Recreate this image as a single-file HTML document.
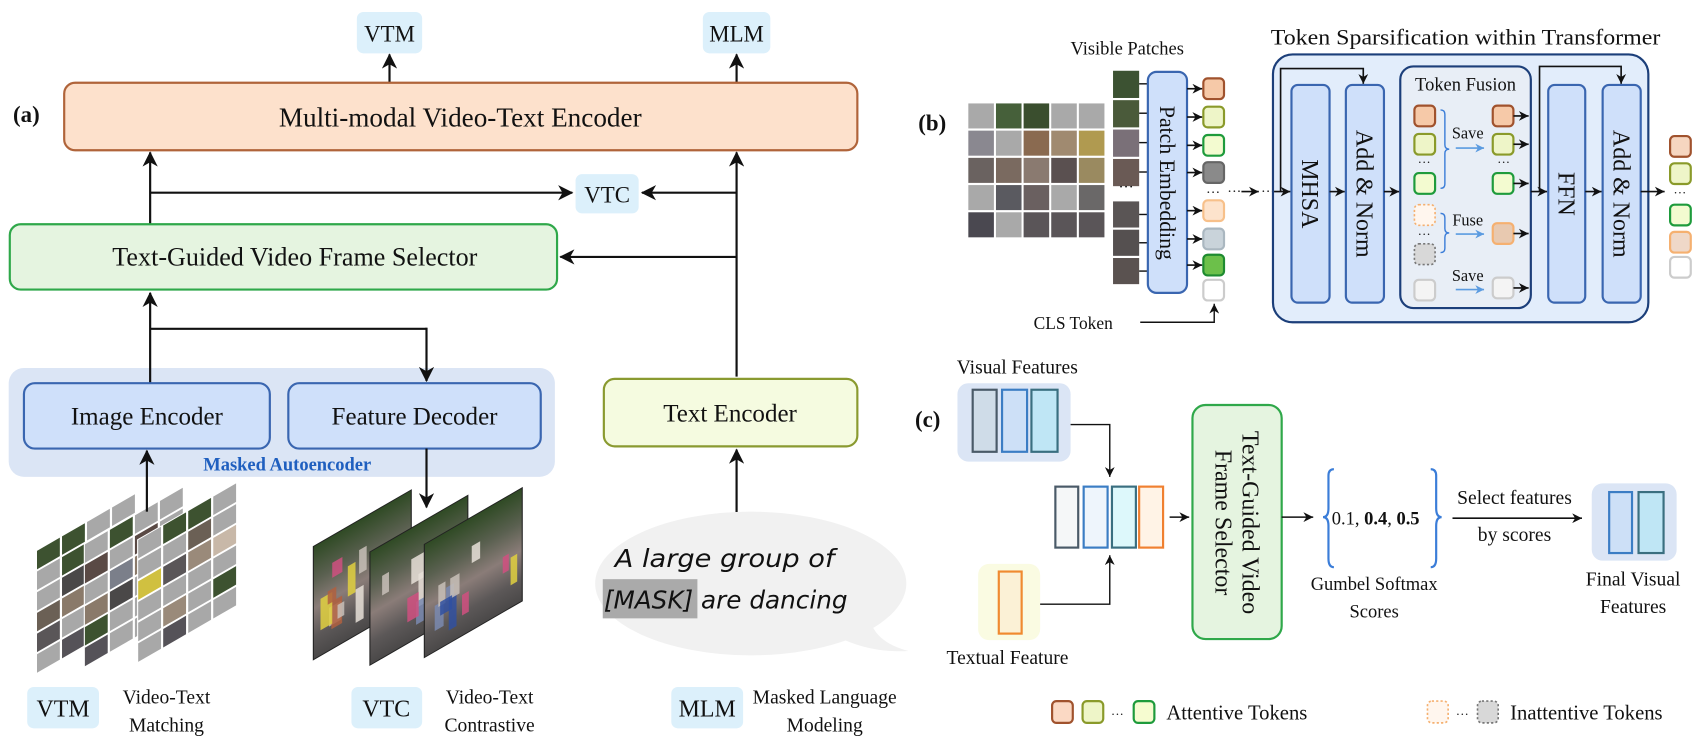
<!DOCTYPE html>
<html><head><meta charset="utf-8">
<style>
html,body{margin:0;padding:0;background:#fff;}
svg{display:block;font-family:"Liberation Serif",serif;}
svg text{font-family:"Liberation Serif",serif;fill:#111;}
</style></head>
<body>
<svg id="s" width="1706" height="749" viewBox="0 0 1568 688" preserveAspectRatio="none" xmlns="http://www.w3.org/2000/svg" font-family="Liberation Serif, serif">
<defs>
<marker id="A" viewBox="0 0 14 14" refX="13" refY="7" markerWidth="14" markerHeight="14" markerUnits="userSpaceOnUse" orient="auto"><path d="M0,0 L14,7 L0,14 L4,7z" fill="#111"/></marker>
<marker id="a" viewBox="0 0 10 10" refX="10" refY="5" markerWidth="9" markerHeight="9" markerUnits="userSpaceOnUse" orient="auto"><path d="M0,0 L10,5 L0,10 L3,5z" fill="#111"/></marker>
<marker id="b" viewBox="0 0 10 10" refX="10" refY="5" markerWidth="8" markerHeight="8" markerUnits="userSpaceOnUse" orient="auto"><path d="M0,0 L10,5 L0,10 L3,5z" fill="#5b9be0"/></marker>
<linearGradient id="ph" x1="0" y1="0" x2="0" y2="1">
<stop offset="0" stop-color="#2f4a24"/><stop offset="0.3" stop-color="#5a6050"/><stop offset="0.55" stop-color="#8a7c78"/><stop offset="0.8" stop-color="#5c5858"/><stop offset="1" stop-color="#4a4848"/>
</linearGradient>
</defs>

<!-- ============ (a) ============ -->
<text x="12" y="112" font-size="21" font-weight="bold">(a)</text>
<rect x="328" y="11" width="60" height="38" rx="6" fill="#dcf0fb"/>
<text x="358" y="38" font-size="21" text-anchor="middle">VTM</text>
<rect x="646" y="11" width="62" height="38" rx="6" fill="#dcf0fb"/>
<text x="677" y="38" font-size="21" text-anchor="middle">MLM</text>
<line x1="358" y1="76" x2="358" y2="50" stroke="#111" stroke-width="2" marker-end="url(#A)"/>
<line x1="677" y1="76" x2="677" y2="50" stroke="#111" stroke-width="2" marker-end="url(#A)"/>

<rect x="59" y="76" width="729" height="62" rx="10" fill="#fde1cc" stroke="#b0643a" stroke-width="2"/>
<text x="423" y="116" font-size="25" text-anchor="middle">Multi-modal Video-Text Encoder</text>

<line x1="138" y1="206" x2="138" y2="140" stroke="#111" stroke-width="2" marker-end="url(#A)"/>
<line x1="138" y1="177" x2="526" y2="177" stroke="#111" stroke-width="2" marker-end="url(#A)"/>
<rect x="529" y="160" width="58" height="36" rx="6" fill="#dcf0fb"/>
<text x="558" y="186" font-size="21" text-anchor="middle">VTC</text>
<line x1="677" y1="346" x2="677" y2="140" stroke="#111" stroke-width="2" marker-end="url(#A)"/>
<line x1="677" y1="177" x2="590" y2="177" stroke="#111" stroke-width="2" marker-end="url(#A)"/>
<line x1="677" y1="236" x2="515" y2="236" stroke="#111" stroke-width="2" marker-end="url(#A)"/>

<rect x="9" y="206" width="503" height="60" rx="10" fill="#e5f4e0" stroke="#2fa84a" stroke-width="2"/>
<text x="271" y="244" font-size="24" text-anchor="middle">Text-Guided Video Frame Selector</text>

<rect x="8" y="338" width="502" height="100" rx="14" fill="#dbe5f5"/>
<line x1="138" y1="352" x2="138" y2="269" stroke="#111" stroke-width="2" marker-end="url(#A)"/>
<line x1="138" y1="302" x2="392" y2="302" stroke="#111" stroke-width="2"/>
<line x1="392" y1="301" x2="392" y2="350" stroke="#111" stroke-width="2" marker-end="url(#A)"/>

<rect x="22" y="352" width="226" height="60" rx="10" fill="#cfe0fa" stroke="#3a66b0" stroke-width="2"/>
<text x="135" y="390" font-size="23" text-anchor="middle">Image Encoder</text>
<rect x="265" y="352" width="232" height="60" rx="10" fill="#cfe0fa" stroke="#3a66b0" stroke-width="2"/>
<text x="381" y="390" font-size="23" text-anchor="middle">Feature Decoder</text>
<text x="264" y="432" font-size="17" font-weight="bold" text-anchor="middle" style="fill:#1f5fbf">Masked Autoencoder</text>

<rect x="555" y="348" width="233" height="62" rx="10" fill="#f5fbe0" stroke="#8a9a30" stroke-width="2"/>
<text x="671" y="387" font-size="23" text-anchor="middle">Text Encoder</text>
<line x1="677" y1="472" x2="677" y2="413" stroke="#111" stroke-width="2" marker-end="url(#A)"/>

<!-- grid frames (filled by script) -->
<g id="gf"></g>
<!-- photo frames -->
<g id="pf"></g>

<line x1="135" y1="470" x2="135" y2="414" stroke="#111" stroke-width="2" marker-end="url(#A)"/>
<line x1="392" y1="412" x2="392" y2="466" stroke="#111" stroke-width="2" marker-end="url(#A)"/>

<!-- speech bubble -->
<ellipse cx="690" cy="536" rx="143" ry="66" fill="#f1f1f1"/>
<path d="M770,585 Q800,600 835,598 Q805,590 800,570z" fill="#f1f1f1"/>
<rect x="554" y="532" width="87" height="36" fill="#aaaaaa"/>
<text x="565" y="521" font-size="23" font-style="italic" textLength="202" lengthAdjust="spacingAndGlyphs" style="font-family:'DejaVu Sans',sans-serif">A large group of</text>
<text x="555" y="559" font-size="23" font-style="italic" textLength="224" lengthAdjust="spacingAndGlyphs" style="font-family:'DejaVu Sans',sans-serif">[MASK] are dancing</text>

<!-- legend (a) -->
<rect x="25" y="631" width="66" height="38" rx="6" fill="#dcf0fb"/>
<text x="58" y="658" font-size="22" text-anchor="middle">VTM</text>
<text x="153" y="646" font-size="18" text-anchor="middle">Video-Text</text>
<text x="153" y="672" font-size="18" text-anchor="middle">Matching</text>
<rect x="323" y="631" width="65" height="38" rx="6" fill="#dcf0fb"/>
<text x="355" y="658" font-size="22" text-anchor="middle">VTC</text>
<text x="450" y="646" font-size="18" text-anchor="middle">Video-Text</text>
<text x="450" y="672" font-size="18" text-anchor="middle">Contrastive</text>
<rect x="617" y="631" width="66" height="38" rx="6" fill="#dcf0fb"/>
<text x="650" y="658" font-size="22" text-anchor="middle">MLM</text>
<text x="758" y="646" font-size="18" text-anchor="middle">Masked Language</text>
<text x="758" y="672" font-size="18" text-anchor="middle">Modeling</text>

<!-- ============ (b) ============ -->
<text x="844" y="120" font-size="21" font-weight="bold">(b)</text>
<text x="1036" y="50" font-size="17" text-anchor="middle">Visible Patches</text>
<text x="1347" y="41" font-size="20" text-anchor="middle" textLength="358" lengthAdjust="spacingAndGlyphs">Token Sparsification within Transformer</text>
<g id="bg"></g>
<g id="pc"></g>
<text x="1035" y="176" font-size="14" text-anchor="middle">···</text>

<rect x="1055" y="66" width="36" height="203" rx="8" fill="#cfe0fa" stroke="#3a66b0" stroke-width="2"/>
<text transform="translate(1073,168) rotate(90)" font-size="20" text-anchor="middle" dy="0.35em">Patch Embedding</text>

<g id="tk"></g>
<text x="1115" y="181" font-size="13" text-anchor="middle">···</text>
<text x="950" y="302" font-size="16">CLS Token</text>
<polyline points="1048,296 1116,296 1116,279" fill="none" stroke="#111" stroke-width="1.3" marker-end="url(#a)"/>

<text x="1128" y="180" font-size="13">···</text>
<line x1="1141" y1="176" x2="1157" y2="176" stroke="#111" stroke-width="1.5" marker-end="url(#a)"/>
<text x="1159" y="180" font-size="13">···</text>

<rect x="1170" y="50" width="345" height="246" rx="18" fill="#e2edfb" stroke="#1c3f7a" stroke-width="2"/>
<line x1="1171" y1="176" x2="1186" y2="176" stroke="#111" stroke-width="1.5" marker-end="url(#a)"/>
<polyline points="1177,176 1177,63 1253,63 1253,77" fill="none" stroke="#111" stroke-width="1.5" marker-end="url(#a)"/>
<rect x="1187" y="78" width="35" height="200" rx="6" fill="#cfe0fa" stroke="#3a66b0" stroke-width="2"/>
<text transform="translate(1204.5,178) rotate(90)" font-size="22" text-anchor="middle" dy="0.35em">MHSA</text>
<line x1="1222" y1="176" x2="1236" y2="176" stroke="#111" stroke-width="1.5" marker-end="url(#a)"/>
<rect x="1237" y="78" width="35" height="200" rx="6" fill="#cfe0fa" stroke="#3a66b0" stroke-width="2"/>
<text transform="translate(1254.5,178) rotate(90)" font-size="22" text-anchor="middle" dy="0.35em">Add &amp; Norm</text>
<line x1="1272" y1="176" x2="1286" y2="176" stroke="#111" stroke-width="1.5" marker-end="url(#a)"/>

<rect x="1287" y="61" width="120" height="222" rx="12" fill="#e8eef6" stroke="#1c3f7a" stroke-width="2"/>
<text x="1347" y="83" font-size="17" text-anchor="middle">Token Fusion</text>
<g id="fu"></g>
<text x="1309" y="153" font-size="12" text-anchor="middle">···</text>
<text x="1382" y="153" font-size="12" text-anchor="middle">···</text>
<text x="1309" y="219" font-size="12" text-anchor="middle">···</text>
<path d="M1324,101 q4,0 4,4 v28 q0,4 4,4 q-4,0 -4,4 v28 q0,4 -4,4" fill="none" stroke="#3b7dd8" stroke-width="1.3"/>
<text x="1349" y="127" font-size="15" text-anchor="middle">Save</text>
<line x1="1338" y1="136" x2="1364" y2="136" stroke="#5b9be0" stroke-width="1.5" marker-end="url(#b)"/>
<path d="M1324,196 q4,0 4,4 v10 q0,4 4,4 q-4,0 -4,4 v10 q0,4 -4,4" fill="none" stroke="#3b7dd8" stroke-width="1.3"/>
<text x="1349" y="207" font-size="15" text-anchor="middle">Fuse</text>
<line x1="1338" y1="215" x2="1364" y2="215" stroke="#5b9be0" stroke-width="1.5" marker-end="url(#b)"/>
<text x="1349" y="258" font-size="15" text-anchor="middle">Save</text>
<line x1="1338" y1="266" x2="1364" y2="266" stroke="#5b9be0" stroke-width="1.5" marker-end="url(#b)"/>

<polyline points="1415,176 1415,61 1490,61 1490,77" fill="none" stroke="#111" stroke-width="1.5" marker-end="url(#a)"/>
<line x1="1407" y1="176" x2="1422" y2="176" stroke="#111" stroke-width="1.5" marker-end="url(#a)"/>
<rect x="1423" y="78" width="34" height="200" rx="6" fill="#cfe0fa" stroke="#3a66b0" stroke-width="2"/>
<text transform="translate(1440,178) rotate(90)" font-size="22" text-anchor="middle" dy="0.35em">FFN</text>
<line x1="1457" y1="176" x2="1472" y2="176" stroke="#111" stroke-width="1.5" marker-end="url(#a)"/>
<rect x="1473" y="78" width="35" height="200" rx="6" fill="#cfe0fa" stroke="#3a66b0" stroke-width="2"/>
<text transform="translate(1490.5,178) rotate(90)" font-size="22" text-anchor="middle" dy="0.35em">Add &amp; Norm</text>
<line x1="1508" y1="176" x2="1530" y2="176" stroke="#111" stroke-width="1.5" marker-end="url(#a)"/>
<g id="ot"></g>
<text x="1544" y="181" font-size="12" text-anchor="middle">···</text>

<!-- ============ (c) ============ -->
<text x="841" y="392" font-size="21" font-weight="bold">(c)</text>
<text x="935" y="343" font-size="18" text-anchor="middle">Visual Features</text>
<rect x="880" y="352" width="104" height="72" rx="10" fill="#dbe5f5"/>
<rect x="894" y="358" width="22" height="57" fill="#cfdce8" stroke="#4a5a68" stroke-width="2"/>
<rect x="921" y="358" width="23" height="57" fill="#cde0f7" stroke="#3b7dc4" stroke-width="2"/>
<rect x="948" y="358" width="24" height="57" fill="#bfe6f5" stroke="#3a6f80" stroke-width="2"/>
<polyline points="984,390 1020,390 1020,438" fill="none" stroke="#111" stroke-width="1.3" marker-end="url(#a)"/>

<rect x="970" y="447" width="21" height="56" fill="#f5f7f8" stroke="#4a5a68" stroke-width="2"/>
<rect x="996" y="447" width="22" height="56" fill="#eef5fc" stroke="#3b7dc4" stroke-width="2"/>
<rect x="1022" y="447" width="22" height="56" fill="#ddf8fb" stroke="#3a6f80" stroke-width="2"/>
<rect x="1047" y="447" width="22" height="56" fill="#fff3e6" stroke="#f08030" stroke-width="2"/>
<line x1="1075" y1="475" x2="1093" y2="475" stroke="#111" stroke-width="1.3" marker-end="url(#a)"/>

<rect x="899" y="518" width="57" height="70" rx="10" fill="#fafbe2"/>
<rect x="918" y="525" width="21" height="57" fill="#fbf1d6" stroke="#f08a30" stroke-width="2"/>
<polyline points="956,555 1020,555 1020,510" fill="none" stroke="#111" stroke-width="1.3" marker-end="url(#a)"/>
<text x="926" y="610" font-size="18" text-anchor="middle">Textual Feature</text>

<rect x="1096" y="372" width="82" height="215" rx="12" fill="#e5f4e0" stroke="#2fa84a" stroke-width="2"/>
<text transform="translate(1137,480) rotate(90)" font-size="22" text-anchor="middle" y="-5">Text-Guided Video</text>
<text transform="translate(1137,480) rotate(90)" font-size="22" text-anchor="middle" y="20">Frame Selector</text>
<line x1="1178" y1="475" x2="1207" y2="475" stroke="#111" stroke-width="1.3" marker-end="url(#a)"/>

<path d="M1226,431 q-5,0 -5,6 v30 q0,8 -5,8 q5,0 5,8 v30 q0,8 5,8" fill="none" stroke="#3b7dd8" stroke-width="2"/>
<text x="1224" y="482" font-size="17">0.1, <tspan font-weight="bold">0.4</tspan>, <tspan font-weight="bold">0.5</tspan></text>
<path d="M1315,431 q5,0 5,6 v30 q0,8 5,8 q-5,0 -5,8 v30 q0,8 -5,8" fill="none" stroke="#3b7dd8" stroke-width="2"/>
<text x="1392" y="463" font-size="18" text-anchor="middle">Select features</text>
<line x1="1335" y1="476" x2="1454" y2="476" stroke="#111" stroke-width="1.5" marker-end="url(#a)"/>
<text x="1392" y="497" font-size="18" text-anchor="middle">by scores</text>
<text x="1263" y="542" font-size="17" text-anchor="middle">Gumbel Softmax</text>
<text x="1263" y="567" font-size="17" text-anchor="middle">Scores</text>
<rect x="1463" y="444" width="78" height="71" rx="10" fill="#dbe5f5"/>
<rect x="1479" y="452" width="21" height="56" fill="#cde0f7" stroke="#3b7dc4" stroke-width="2"/>
<rect x="1506" y="452" width="23" height="56" fill="#bfe6f5" stroke="#3a6f80" stroke-width="2"/>
<text x="1501" y="538" font-size="18" text-anchor="middle">Final Visual</text>
<text x="1501" y="563" font-size="18" text-anchor="middle">Features</text>

<!-- legend (c) -->
<rect x="967" y="644" width="19" height="20" rx="4" fill="#fbd9c4" stroke="#a0522d" stroke-width="2"/>
<rect x="995" y="644" width="19" height="20" rx="4" fill="#eef5c8" stroke="#8a9a2a" stroke-width="2"/>
<text x="1027" y="660" font-size="12" text-anchor="middle">···</text>
<rect x="1042" y="644" width="19" height="20" rx="4" fill="#f6fcd0" stroke="#1e9b3c" stroke-width="2"/>
<text x="1072" y="661" font-size="19">Attentive Tokens</text>
<rect x="1312" y="644" width="19" height="20" rx="4" fill="#fff6ee" stroke="#f5b070" stroke-width="1.5" stroke-dasharray="2,2"/>
<text x="1344" y="660" font-size="12" text-anchor="middle">···</text>
<rect x="1358" y="644" width="19" height="20" rx="4" fill="#d8d8d8" stroke="#777" stroke-width="1.5" stroke-dasharray="2,2"/>
<text x="1388" y="661" font-size="19">Inattentive Tokens</text>

<script>
(function(){
var NS="http://www.w3.org/2000/svg";
function el(p,t,a){var e=document.createElementNS(NS,t);for(var k in a)e.setAttribute(k,a[k]);p.appendChild(e);return e;}
function tok(p,x,y,f,s,d){var a={x:x,y:y,width:19,height:19,rx:4,fill:f,stroke:s,"stroke-width":2};if(d){a["stroke-dasharray"]="2,2";a["stroke-width"]=1.5;}el(p,"rect",a);}
var pal=["#3d5230","#6b6055","#7b7f8a","#5a4a45","#8a7a6a","#c8b8a8","#4a4848","#9a8a7a","#d0c040","#5a5658"];
var bg=document.getElementById("bg");
var pat=["GPPGG","PGPPP","PPPPP","GPPGP","PGPPP"];
var rowc=[["#3d5230","#46603a","#3a4e2e","#3d5230","#3d5230"],["#8a8890","#7a6a60","#8a6a50","#a08a70","#b09a50"],["#6a6260","#7a6a60","#8a7a70","#5a5050","#9a8a60"],["#6a6a70","#5a5a60","#6a6060","#5a5a60","#6a6868"],["#4a4850","#5a5558","#5a5558","#5a5558","#5a5558"]];
for(var r=0;r<5;r++)for(var c=0;c<5;c++){el(bg,"rect",{x:890+c*25.4,y:95+r*25,width:23.5,height:23,fill:pat[r][c]=="G"?"#a9a9a9":rowc[r][c]});}
var pc=document.getElementById("pc");
var py=[65,92,119,146,185,211,237],pcol=["#3c5232","#4a5a3a","#7a7078","#6a5a55","#5a5555","#555050","#5a5250"];
var tky=[72,98,124,149,184,210,234];
var tf=[["#f6c9a8","#a0522d"],["#eef5c8","#8a9a2a"],["#f3fbd0","#1e9b3c"],["#8a8a8a","#666"],["#fde3cc","#f7c08a"],["#c9d3da","#aab7c0"],["#6cc04a","#1e8b30"]];
var tk=document.getElementById("tk");
for(var i=0;i<7;i++){el(pc,"rect",{x:1023,y:py[i],width:24,height:i<4?25:24,fill:pcol[i]});
var cy=py[i]+12;el(pc,"line",{x1:1047,y1:cy,x2:1055,y2:cy,stroke:"#111","stroke-width":1.3});
el(tk,"line",{x1:1091,y1:tky[i]+9.5,x2:1105,y2:tky[i]+9.5,stroke:"#111","stroke-width":1.5,"marker-end":"url(#a)"});
tok(tk,1106,tky[i],tf[i][0],tf[i][1]);}
tok(tk,1106,257,"#fff","#ccc");
var fu=document.getElementById("fu");
tok(fu,1300,97,"#f6c9a8","#a0522d");tok(fu,1300,123,"#eef5c8","#8a9a2a");tok(fu,1300,159,"#f3fbd0","#1e9b3c");
tok(fu,1300,188,"#fff6ee","#f5b070",1);tok(fu,1300,224,"#d8d8d8","#777",1);tok(fu,1300,257,"#f4f4f4","#ccc");
var R=[[97,"#f6c9a8","#a0522d"],[123,"#eef5c8","#8a9a2a"],[159,"#f3fbd0","#1e9b3c"],[205,"#e8c9b0","#f5b070"],[255,"#f4f4f4","#ccc"]];
R.forEach(function(q){tok(fu,1372,q[0],q[1],q[2]);el(fu,"line",{x1:1391,y1:q[0]+9.5,x2:1405,y2:q[0]+9.5,stroke:"#111","stroke-width":1.5,"marker-end":"url(#a)"});});
var ot=document.getElementById("ot");
tok(ot,1535,125,"#f6d6c0","#a0522d");tok(ot,1535,150,"#eef5c8","#8a9a2a");tok(ot,1535,188,"#f3fbd0","#1e9b3c");tok(ot,1535,213,"#efd8c8","#f5b070");tok(ot,1535,236,"#fff","#ccc");
var gf=document.getElementById("gf");
var frames=[[34,506],[78,500],[127,496]];
var seed=7;function rnd(){seed=(seed*9301+49297)%233280;return seed/233280;}
frames.forEach(function(f,fi){var g=el(gf,"g",{transform:"translate("+f[0]+","+f[1]+") skewY(-30)"});
el(g,"rect",{x:-1,y:-1,width:92,height:114,fill:"#fff"});
for(var r=0;r<6;r++)for(var c=0;c<4;c++){var gray=rnd()<0.45;var col=gray?"#a8a8a8":(r<1?"#3d5230":(r>4?"#555258":pal[Math.floor(rnd()*pal.length)]));
el(g,"rect",{x:c*23,y:r*19,width:21,height:17,fill:col});}});
var pf=document.getElementById("pf");
var pfs=[[288,502],[340,507],[390,500]];
var blob=["#c8c0b8","#e0d040","#40b060","#d05080","#3050a0","#e8e0d8","#b06040","#7a8ab0"];
pfs.forEach(function(f){var g=el(pf,"g",{transform:"translate("+f[0]+","+f[1]+") skewY(-30)"});
el(g,"rect",{x:0,y:0,width:90,height:104,fill:"url(#ph)",stroke:"#222","stroke-width":1});
for(var k=0;k<10;k++){el(g,"rect",{x:5+rnd()*75,y:25+rnd()*50,width:5+rnd()*7,height:12+rnd()*20,fill:blob[Math.floor(rnd()*blob.length)],opacity:0.85});}});
})();
</script>
</svg>
</body></html>
